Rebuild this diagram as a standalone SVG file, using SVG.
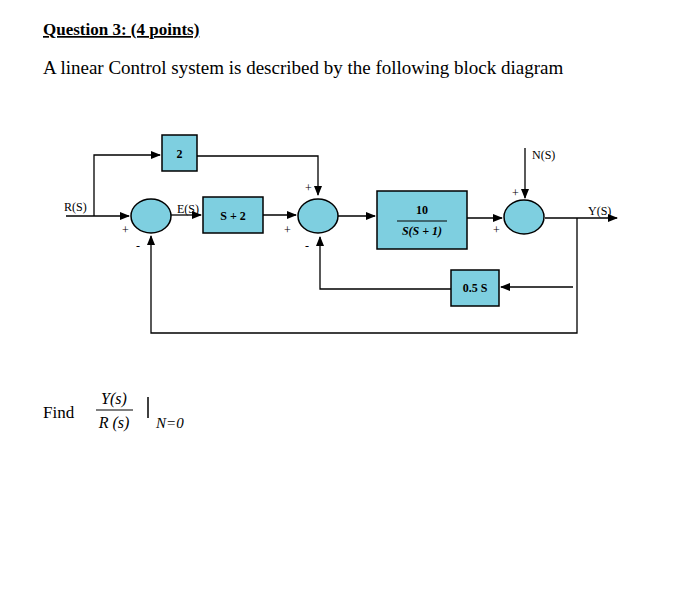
<svg xmlns="http://www.w3.org/2000/svg" width="689" height="599" viewBox="0 0 689 599">
<defs>
<marker id="a" markerWidth="10" markerHeight="8" refX="9" refY="4" orient="auto" markerUnits="userSpaceOnUse"><path d="M0,0 L10,4 L0,8 z" fill="#000"/></marker>
<style>
.blk{fill:#7ecfe0;stroke:#000;stroke-width:1.5}
.ln{fill:none;stroke:#000;stroke-width:1.3}
.t{font-family:"Liberation Serif",serif;fill:#000}
.b{font-family:"Liberation Serif",serif;font-weight:bold;fill:#000}
</style>
</defs>
<rect width="689" height="599" fill="#fff"/>
<text class="t" x="43" y="35" font-size="17" font-weight="bold" text-decoration="underline">Question 3: (4 points)</text>
<text class="t" x="43" y="74" font-size="19">A linear Control system is described by the following block diagram</text>
<g id="connectors">
<path class="ln" d="M66,216 H129" marker-end="url(#a)"/>
<path class="ln" d="M94,216 V155 H160" marker-end="url(#a)"/>
<path class="ln" d="M197,156 H318 V195" marker-end="url(#a)"/>
<path class="ln" d="M171,215 H201" marker-end="url(#a)"/>
<path class="ln" d="M263,215 H296" marker-end="url(#a)"/>
<path class="ln" d="M338,216 H375" marker-end="url(#a)"/>
<path class="ln" d="M467,218 H502" marker-end="url(#a)"/>
<path class="ln" d="M525,148 V198" marker-end="url(#a)"/>
<path class="ln" d="M545,218 H617" marker-end="url(#a)"/>
<path class="ln" d="M577,218 V333 H151 V236" marker-end="url(#a)"/>
<path class="ln" d="M573,287 H501" marker-end="url(#a)"/>
<path class="ln" d="M451,289 H320 V237" marker-end="url(#a)"/>
</g>
<g id="sum1"><ellipse class="blk" cx="151" cy="216" rx="20" ry="17"/></g>
<g id="sum2"><ellipse class="blk" cx="318" cy="216" rx="20" ry="17"/></g>
<g id="sum3"><ellipse class="blk" cx="524" cy="217" rx="20" ry="17"/></g>
<g id="g2"><rect class="blk" x="162" y="135" width="35" height="36"/><text class="b" x="179.5" y="158" font-size="12" text-anchor="middle">2</text></g>
<g id="gs2"><rect class="blk" x="203" y="197" width="60" height="36"/><text class="b" x="233" y="220" font-size="12" text-anchor="middle">S + 2</text></g>
<g id="gplant"><rect class="blk" x="377" y="191" width="90" height="58"/><text class="b" x="422" y="214" font-size="12" text-anchor="middle">10</text><line x1="397" y1="221" x2="447" y2="221" stroke="#000"/><text class="b" x="422" y="235" font-size="12" font-style="italic" text-anchor="middle">S(S + 1)</text></g>
<g id="gh"><rect class="blk" x="451" y="270" width="48" height="36"/><text class="b" x="475" y="292" font-size="12" text-anchor="middle">0.5 S</text></g>
<g id="labels" class="t" font-size="12">
<text class="t" x="64" y="211">R(S)</text>
<text class="t" x="177" y="213">E(S)</text>
<text class="t" x="532" y="159">N(S)</text>
<text class="t" x="588" y="215">Y(S)</text>
<text class="t" x="122" y="234">+</text>
<text class="t" x="136" y="250">-</text>
<text class="t" x="305" y="192">+</text>
<text class="t" x="284" y="234">+</text>
<text class="t" x="305" y="250">-</text>
<text class="t" x="512" y="197">+</text>
<text class="t" x="493" y="234">+</text>
</g>
<text class="t" x="43" y="418" font-size="17">Find</text>
<text class="t" x="114" y="404" font-size="16" font-style="italic" text-anchor="middle">Y(s)</text>
<line x1="96" y1="410" x2="133" y2="410" stroke="#000" stroke-width="1.2"/>
<text class="t" x="114" y="428" font-size="16" font-style="italic" text-anchor="middle">R (s)</text>
<line x1="148" y1="397" x2="148" y2="418" stroke="#000" stroke-width="1.5"/>
<text class="t" x="156" y="428" font-size="15" font-style="italic">N=0</text>
</svg>
